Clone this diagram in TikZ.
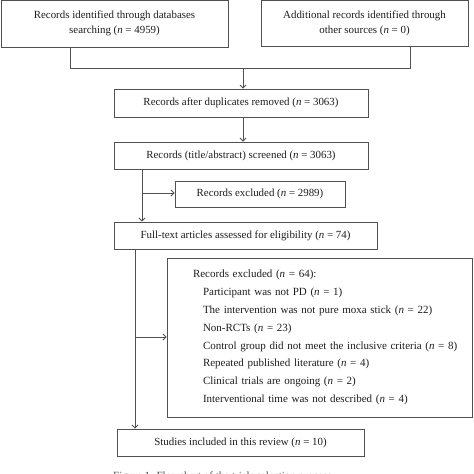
\documentclass[tikz,border=0pt]{standalone}
\usepackage{fontspec}
\setmainfont{Liberation Serif}
\usetikzlibrary{arrows.meta}
\definecolor{lc}{HTML}{505050}
\definecolor{tc}{HTML}{1E1E1E}
\newcommand{\nn}{\textit{n}}
\begin{document}
\begin{tikzpicture}[x=1pt,y=-1pt,
  box/.style={draw=lc,line width=0.9pt,rectangle,inner sep=0pt,text=tc,font=\fontsize{10.9}{15}\selectfont,align=center},
  conn/.style={draw=lc,line width=0.9pt},
  arr/.style={conn,-{Straight Barb[length=3pt,width=6pt]}}]
\path[use as bounding box] (0,0) rectangle (474,474);
\clip (0,0) rectangle (474,474);
\fill[white] (0,0) rectangle (474,474);
\node[box,minimum width=227,minimum height=47] (b1) at (114.5,23.5) {Records identified through databases\\searching (\nn{} = 4959)};
\node[box,minimum width=207,minimum height=46] (b1r) at (364.5,23) {Additional records identified through\\other sources (\nn{} = 0)};
\node[box,minimum width=254,minimum height=28] (b2) at (241,103) {Records after duplicates removed (\nn{} = 3063)};
\node[box,minimum width=254,minimum height=27] (b3) at (241,155.5) {Records (title/abstract) screened (\nn{} = 3063)};
\node[box,minimum width=170,minimum height=26] (e1) at (260,194) {Records excluded (\nn{} = 2989)};
\node[box,minimum width=263,minimum height=27] (b4) at (245.5,235.5) {Full-text articles assessed for eligibility (\nn{} = 74)};
\node[box,minimum width=305,minimum height=159,align=left,inner xsep=0pt,text width=305pt,font=\fontsize{11}{17.9}\selectfont] (e2) at (319.5,337.5) {\hspace*{26pt}Records excluded (\nn{} = 64):\\
\hspace*{36pt}Participant was not PD (\nn{} = 1)\\
\hspace*{36pt}The intervention was not pure moxa stick (\nn{} = 22)\\
\hspace*{36pt}Non-RCTs (\nn{} = 23)\\
\hspace*{36pt}Control group did not meet the inclusive criteria (\nn{} = 8)\\
\hspace*{36pt}Repeated published literature (\nn{} = 4)\\
\hspace*{36pt}Clinical trials are ongoing (\nn{} = 2)\\
\hspace*{36pt}Interventional time was not described (\nn{} = 4)};
\node[box,minimum width=247,minimum height=27] (b5) at (240.5,442.5) {Studies included in this review (\nn{} = 10)};
\node[anchor=base west,text=lc,inner sep=0pt,font=\fontsize{11}{12}\selectfont] (cap) at (113,479) {\textsc{Figure 1.} Flowchart of the trials selection process.};
% connectors
\coordinate (j1) at (70,68);
\coordinate (j2) at (410,68);
\coordinate (j3) at (243,68);
\draw[conn] (b1.south -| j1) -- (j1) -- (j2) -- (b1r.south -| j2);
\draw[arr] (j3) -- (b2.north -| j3);
\draw[arr] (b2.south -| j3) -- (b3.north -| j3);
\coordinate (k1) at (142,193);
\draw[arr] (b3.south -| k1) -- (b4.north -| k1);
\draw[arr] (k1) -- (e1.west |- k1);
\coordinate (k2) at (135,337);
\draw[arr] (b4.south -| k2) -- (b5.north -| k2);
\draw[arr] (k2) -- (e2.west |- k2);
\end{tikzpicture}
\end{document}
